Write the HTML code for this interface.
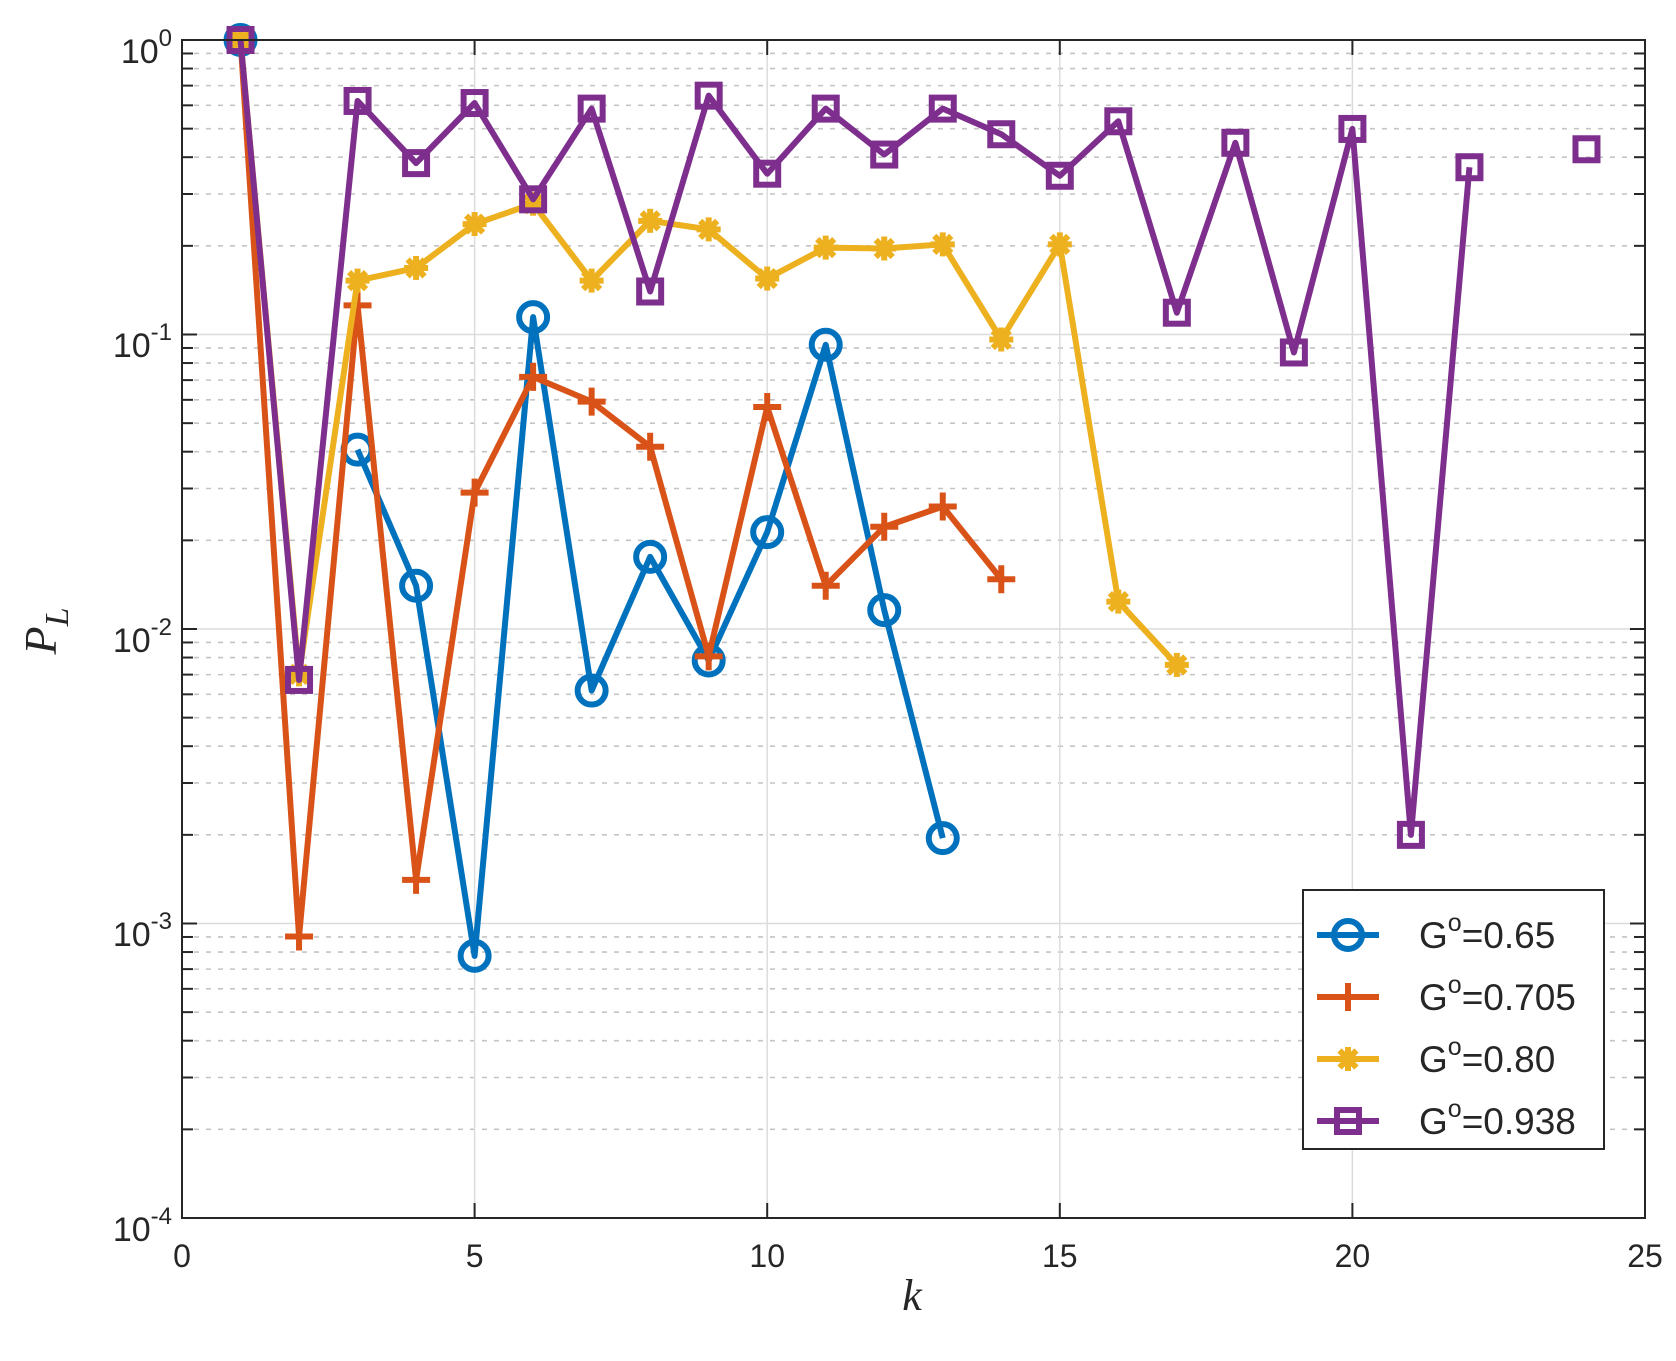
<!DOCTYPE html>
<html><head><meta charset="utf-8"><style>
html,body{margin:0;padding:0;background:#fff}
svg{display:block}
text{font-family:"Liberation Sans",sans-serif;fill:#262626}
</style></head><body>
<svg id="s" width="1676" height="1361" viewBox="0 0 1676 1361" xmlns="http://www.w3.org/2000/svg">
<rect width="1676" height="1361" fill="#fff"/>
<g id="grid"></g>
<g id="series"></g>
<rect x="182" y="40" width="1463" height="1178" fill="none" stroke="#262626" stroke-width="2"/>
<g id="ticks"></g>
<g font-size="32" text-anchor="middle">
<text x="182" y="1267">0</text>
<text x="474.6" y="1267">5</text>
<text x="767.2" y="1267">10</text>
<text x="1059.8" y="1267">15</text>
<text x="1352.4" y="1267">20</text>
<text x="1645" y="1267">25</text>
</g>
<g font-size="34" text-anchor="end">
<text x="172" y="63">10<tspan font-size="24" dy="-17">0</tspan></text>
<text x="172" y="357">10<tspan font-size="24" dy="-17">-1</tspan></text>
<text x="172" y="652">10<tspan font-size="24" dy="-17">-2</tspan></text>
<text x="172" y="946">10<tspan font-size="24" dy="-17">-3</tspan></text>
<text x="172" y="1241">10<tspan font-size="24" dy="-17">-4</tspan></text>
</g>
<text x="912" y="1310" font-size="44" font-style="italic" text-anchor="middle" style="font-family:'Liberation Serif',serif">k</text>
<text transform="translate(56,631) rotate(-90)" font-size="46" font-style="italic" text-anchor="middle" style="font-family:'Liberation Serif',serif">P<tspan font-size="34" dy="12">L</tspan></text>
<rect x="1303" y="890" width="301" height="259" fill="#fff" stroke="#262626" stroke-width="2"/>
<g id="leg"></g>
<g font-size="37">
<text x="1419" y="948">G<tspan font-size="25" dy="-17">o</tspan><tspan dy="17">=0.65</tspan></text>
<text x="1419" y="1010">G<tspan font-size="25" dy="-17">o</tspan><tspan dy="17">=0.705</tspan></text>
<text x="1419" y="1072">G<tspan font-size="25" dy="-17">o</tspan><tspan dy="17">=0.80</tspan></text>
<text x="1419" y="1134">G<tspan font-size="25" dy="-17">o</tspan><tspan dy="17">=0.938</tspan></text>
</g>
</svg>
<script>
const NS="http://www.w3.org/2000/svg";
const X=k=>182+k*58.52, Y=l=>40-l*294.5;
function el(p,t,a){const e=document.createElementNS(NS,t);for(const k in a)e.setAttribute(k,a[k]);document.getElementById(p).appendChild(e);return e;}
for(let d=0;d<4;d++)for(let m=2;m<=9;m++){const y=Y(-d-1+Math.log10(m));
 el('grid','line',{x1:182,x2:1645,y1:y,y2:y,stroke:'#c4c4c4','stroke-width':1.6,'stroke-dasharray':'5,7'});
 el('ticks','line',{x1:182,x2:193,y1:y,y2:y,stroke:'#262626','stroke-width':2});
 el('ticks','line',{x1:1634,x2:1645,y1:y,y2:y,stroke:'#262626','stroke-width':2});}
for(let d=1;d<4;d++){const y=Y(-d);el('grid','line',{x1:182,x2:1645,y1:y,y2:y,stroke:'#dcdcdc','stroke-width':1.5});
 el('ticks','line',{x1:182,x2:197,y1:y,y2:y,stroke:'#262626','stroke-width':2});el('ticks','line',{x1:1630,x2:1645,y1:y,y2:y,stroke:'#262626','stroke-width':2});}
for(let k=5;k<25;k+=5){const x=X(k);el('grid','line',{x1:x,x2:x,y1:40,y2:1218,stroke:'#dcdcdc','stroke-width':1.5});
 el('ticks','line',{x1:x,x2:x,y1:1218,y2:1203,stroke:'#262626','stroke-width':2});el('ticks','line',{x1:x,x2:x,y1:40,y2:55,stroke:'#262626','stroke-width':2});}
const S=[
 {c:'#0072bd',m:'o',segs:[[[1,0]],[[3,-1.391],[4,-1.853],[5,-3.11],[6,-0.941],[7,-2.209],[8,-1.755],[9,-2.107],[10,-1.671],[11,-1.035],[12,-1.936],[13,-2.71]]]},
 {c:'#d95319',m:'+',segs:[[[1,0],[2,-3.044],[3,-0.901],[4,-2.852],[5,-1.537],[6,-1.144],[7,-1.228],[8,-1.381],[9,-2.093],[10,-1.246],[11,-1.853],[12,-1.653],[13,-1.584],[14,-1.831]]]},
 {c:'#edb120',m:'*',segs:[[[1,0],[2,-2.154],[3,-0.817],[4,-0.774],[5,-0.625],[6,-0.556],[7,-0.817],[8,-0.614],[9,-0.643],[10,-0.810],[11,-0.705],[12,-0.708],[13,-0.694],[14,-1.017],[15,-0.694],[16,-1.907],[17,-2.122]]]},
 {c:'#7e2f8e',m:'s',segs:[[[1,0],[2,-2.173],[3,-0.207],[4,-0.418],[5,-0.214],[6,-0.541],[7,-0.233],[8,-0.854],[9,-0.189],[10,-0.454],[11,-0.233],[12,-0.389],[13,-0.233],[14,-0.320],[15,-0.461],[16,-0.276],[17,-0.926],[18,-0.349],[19,-1.061],[20,-0.302],[21,-2.699],[22,-0.432]],[[24,-0.371]]]}];
const LW=6;
function mark(g,m,x,y,c){
 if(m=='o')el(g,'circle',{cx:x,cy:y,r:14,fill:'none',stroke:c,'stroke-width':LW});
 else if(m=='+'){el(g,'path',{d:`M${x-14} ${y}H${x+14}M${x} ${y-14}V${y+14}`,stroke:c,'stroke-width':LW});}
 else if(m=='*'){for(let a=0;a<4;a++){const t=a*Math.PI/4,dx=12*Math.cos(t),dy=12*Math.sin(t);el(g,'line',{x1:x-dx,y1:y-dy,x2:x+dx,y2:y+dy,stroke:c,'stroke-width':LW});}el(g,'circle',{cx:x,cy:y,r:7,fill:c});}
 else el(g,'rect',{x:x-11,y:y-11,width:22,height:22,fill:'none',stroke:c,'stroke-width':LW});
}
S.forEach(s=>{s.segs.forEach(d=>{if(d.length>1)el('series','polyline',{points:d.map(p=>X(p[0])+','+Y(p[1])).join(' '),fill:'none',stroke:s.c,'stroke-width':LW,'stroke-linejoin':'round'});
 d.forEach(p=>mark('series',s.m,X(p[0]),Y(p[1]),s.c));});});
S.forEach((s,i)=>{const y=935+i*62;el('leg','line',{x1:1317,x2:1379,y1:y,y2:y,stroke:s.c,'stroke-width':LW});mark('leg',s.m,1348,y,s.c);});
</script>
</body></html>
